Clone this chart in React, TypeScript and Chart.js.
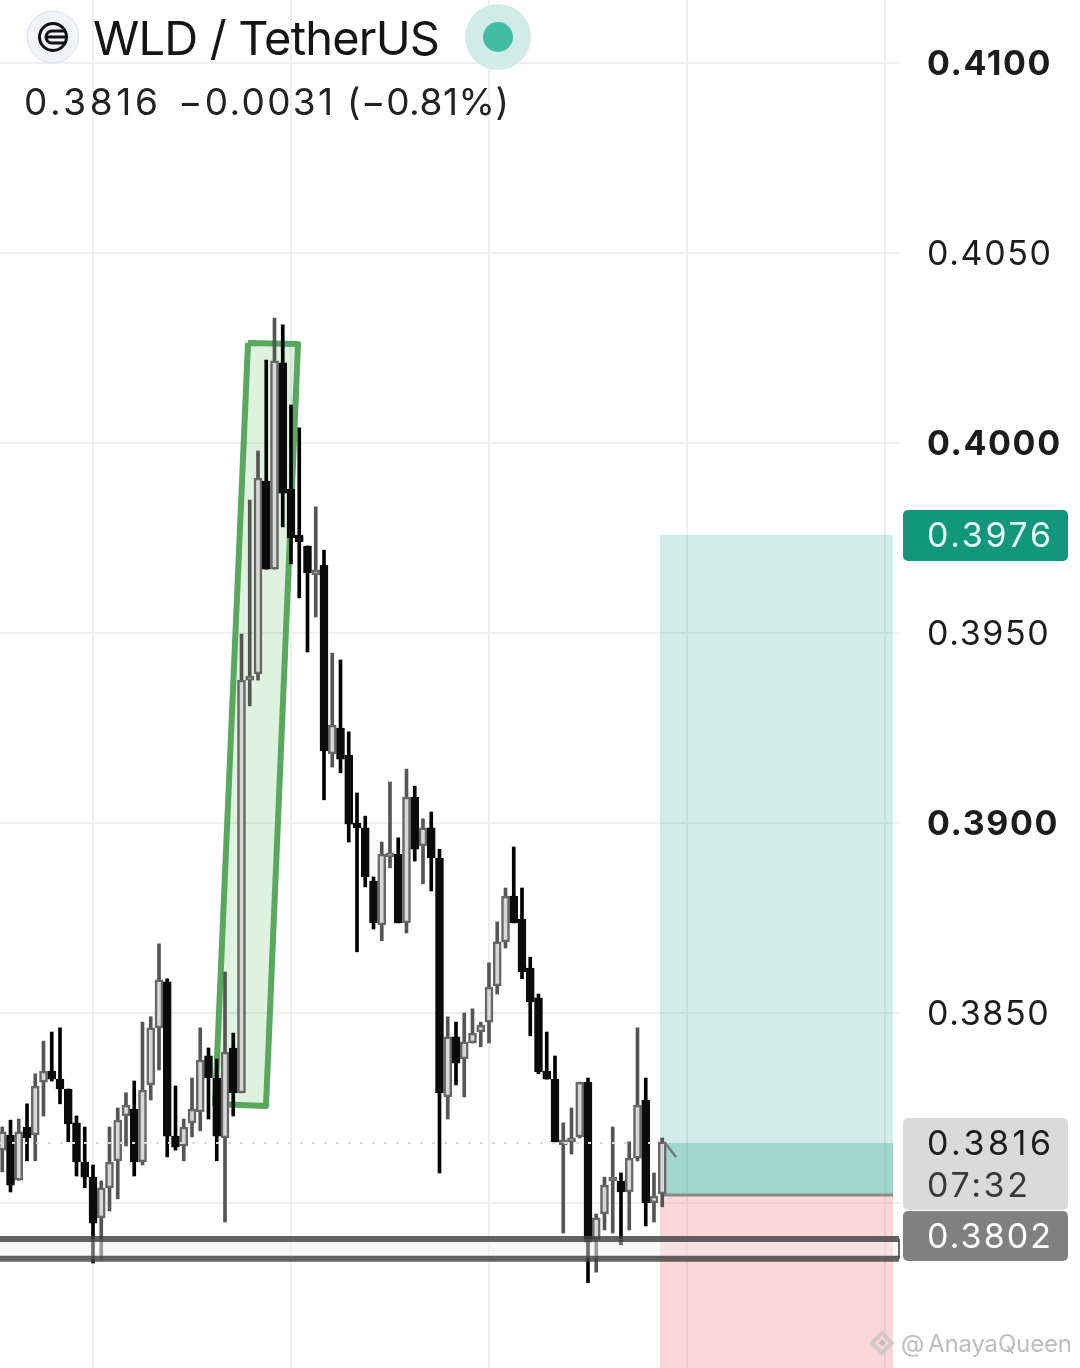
import React, { useEffect, useRef } from "react";
import { Chart, registerables } from "chart.js";

Chart.register(...registerables);

const opens = [
  0.38139, 0.38179, 0.3806, 0.382, 0.38179, 0.38318, 0.38347, 0.38326, 0.383, 0.38211,
  0.38108, 0.38068, 0.37961, 0.3804, 0.38111, 0.38229, 0.38247, 0.38108, 0.38311, 0.38461,
  0.38582, 0.38176, 0.3815, 0.38211, 0.3824, 0.38387, 0.38329, 0.38171, 0.38408, 0.3829,
  0.39376, 0.39392, 0.399, 0.39668, 0.40211, 0.39879, 0.39758, 0.39729, 0.39653, 0.39679,
  0.39182, 0.3925, 0.39179, 0.39, 0.38987, 0.38847, 0.38732, 0.38911, 0.38918, 0.38737,
  0.39068, 0.3894, 0.38987, 0.38908, 0.38279, 0.38437, 0.38379, 0.38421, 0.3845, 0.38476,
  0.38571, 0.38687, 0.38808, 0.38747, 0.38618, 0.3854, 0.38347, 0.38326, 0.38153, 0.38161,
  0.38174, 0.38318, 0.37903, 0.37971, 0.38058, 0.38058, 0.38029, 0.38118, 0.38271, 0.38, 0.38024,
];
const closes = [
  0.38187, 0.38047, 0.38187, 0.38171, 0.38308, 0.38347, 0.38326, 0.383, 0.38208, 0.38108,
  0.38068, 0.37947, 0.3804, 0.38108, 0.38218, 0.38258, 0.38108, 0.38297, 0.38461, 0.38587,
  0.38176, 0.38147, 0.382, 0.38247, 0.38376, 0.38329, 0.38176, 0.38397, 0.3829, 0.39376,
  0.39379, 0.39908, 0.39668, 0.40216, 0.39868, 0.3975, 0.3974, 0.39658, 0.39666, 0.3919,
  0.39258, 0.39168, 0.38997, 0.38987, 0.38858, 0.38737, 0.38918, 0.38918, 0.38737, 0.39068,
  0.38931, 0.38987, 0.38908, 0.3829, 0.38437, 0.38368, 0.38424, 0.38447, 0.38468, 0.38568,
  0.38687, 0.38808, 0.38737, 0.38608, 0.38529, 0.38345, 0.38326, 0.38161, 0.38166, 0.38168,
  0.38318, 0.37897, 0.37961, 0.38047, 0.38063, 0.38029, 0.38118, 0.38258, 0.38, 0.38018, 0.38161,
];
const highs = [
  0.382, 0.38218, 0.38221, 0.38261, 0.3834, 0.38426, 0.3845, 0.38461, 0.383, 0.38229,
  0.382, 0.381, 0.38058, 0.382, 0.3825, 0.3829, 0.38321, 0.38476, 0.3849, 0.38682,
  0.3859, 0.38308, 0.38221, 0.38329, 0.38461, 0.38408, 0.38379, 0.38608, 0.38447, 0.39497,
  0.3985, 0.39979, 0.40218, 0.40329, 0.40311, 0.401, 0.4004, 0.39729, 0.39832, 0.39718,
  0.39447, 0.39429, 0.3924, 0.39079, 0.39018, 0.38858, 0.3895, 0.39108, 0.38961, 0.39142,
  0.39097, 0.39011, 0.39029, 0.38931, 0.3849, 0.38476, 0.385, 0.38511, 0.38476, 0.38632,
  0.3874, 0.38829, 0.38937, 0.38829, 0.38647, 0.3855, 0.3845, 0.38387, 0.38211, 0.3825,
  0.38318, 0.38329, 0.37971, 0.38068, 0.382, 0.38079, 0.38161, 0.38461, 0.38329, 0.38079, 0.38171,
];
const lows = [
  0.38082, 0.38029, 0.3806, 0.38111, 0.38111, 0.38229, 0.38321, 0.38261, 0.38161, 0.38071,
  0.3804, 0.37842, 0.37853, 0.37979, 0.38011, 0.3815, 0.38071, 0.381, 0.38271, 0.3835,
  0.38121, 0.38139, 0.38111, 0.38174, 0.3819, 0.38221, 0.38111, 0.3795, 0.38229, 0.3829,
  0.39308, 0.39376, 0.39668, 0.39668, 0.39779, 0.39682, 0.39592, 0.3945, 0.39542, 0.39061,
  0.39147, 0.39132, 0.3895, 0.38661, 0.38832, 0.38721, 0.3869, 0.38882, 0.38737, 0.38711,
  0.389, 0.3884, 0.38821, 0.38079, 0.38221, 0.38311, 0.38279, 0.38421, 0.38411, 0.38421,
  0.3855, 0.38671, 0.38737, 0.3859, 0.3844, 0.3834, 0.38326, 0.38161, 0.37921, 0.38129,
  0.38171, 0.3779, 0.37818, 0.37929, 0.37921, 0.3789, 0.37929, 0.38111, 0.3794, 0.3795, 0.3799,
];

const yTickValues = [0.41, 0.405, 0.4, 0.395, 0.39, 0.385, 0.38];
const boldTicks = [0.41, 0.4, 0.39];
const hiddenTicks = [0.38];
const xGridValues = [11, 35, 59, 83, 107];

const priceMin = 0.375658;
const priceMax = 0.411658;
const indexMin = -0.2727;
const indexMax = 108.82;

const targetPrice = 0.39758;
const lastPrice = 0.38158;
const entryPrice = 0.38021;
const boxStart = 79.73;
const boxEnd = 107.97;
const zoneTop = 0.37905;
const zoneBottom = 0.37853;
const zoneEnd = 108.7;
const channelIndex = [29.79, 35.85, 31.97, 25.79];
const channelPrice = [0.402632, 0.402605, 0.382553, 0.382605];
const arrowIndex = [80.35, 81.67];
const arrowPrice = [0.38158, 0.38121];

const titleText = "WLD / TetherUS";
const quoteParts = ["0.3816", "\u22120.0031", "(\u22120.81%)"];
const FONT = "Inter, 'Noto Sans', sans-serif";

const box = (x0: number, x1: number, p0: number, p1: number) => [
  { x: x0, y: p0 }, { x: x1, y: p0 }, { x: x1, y: p1 }, { x: x0, y: p1 }, { x: x0, y: p0 },
];

// draws a string so that it fills the given width, as the tabular figures of the reference do
const fit = (c: any, text: string, x: number, y: number, width: number) => {
  c.letterSpacing = "0px";
  const w = c.measureText(text).width;
  c.letterSpacing = `${(width - w) / Math.max(1, text.length - 1)}px`;
  c.fillText(text, x, y);
  c.letterSpacing = "0px";
};

const overlay = {
  id: "overlay",
  beforeDraw(chart: any) {
    chart.ctx.letterSpacing = "1.6px";
  },
  afterDraw(chart: any) {
    const c = chart.ctx as any;
    c.save();
    c.textBaseline = "alphabetic";
    c.textAlign = "left";

    // header
    c.beginPath();
    c.arc(53, 37, 26, 0, Math.PI * 2);
    c.fillStyle = "#f1f3f8";
    c.fill();
    c.strokeStyle = "#dde1ea";
    c.lineWidth = 1;
    c.stroke();
    c.strokeStyle = "#111";
    c.lineWidth = 3;
    c.beginPath();
    c.arc(53, 37, 13.5, 0, Math.PI * 2);
    c.stroke();
    c.beginPath();
    c.moveTo(66, 31);
    c.lineTo(52, 31);
    c.arc(52, 37, 6, -Math.PI / 2, Math.PI / 2, true);
    c.lineTo(66, 43);
    c.stroke();
    c.beginPath();
    c.moveTo(46, 37);
    c.lineTo(66, 37);
    c.stroke();
    c.beginPath();
    c.arc(498, 37, 33, 0, Math.PI * 2);
    c.fillStyle = "#d1ebe6";
    c.fill();
    c.beginPath();
    c.arc(498, 37, 15, 0, Math.PI * 2);
    c.fillStyle = "#43bca6";
    c.fill();

    c.fillStyle = "#151515";
    c.font = `400 47px ${FONT}`;
    fit(c, titleText, 93, 55, 347);
    c.fillStyle = "#222";
    c.font = `400 37px ${FONT}`;
    fit(c, quoteParts[0], 24, 115, 134);
    fit(c, quoteParts[1], 178, 115, 155);
    fit(c, quoteParts[2], 347, 115, 162);

    // price tags
    const tag = (y0: number, y1: number, color: string) => {
      c.beginPath();
      c.roundRect(903, y0, 165, y1 - y0, 5);
      c.fillStyle = color;
      c.fill();
    };
    c.font = `400 34px ${FONT}`;
    tag(510, 561, "#12967c");
    c.fillStyle = "#e8fbf6";
    fit(c, targetPrice.toFixed(4), 927, 547, 124);
    tag(1118, 1210, "#dadada");
    c.fillStyle = "#1c1c1c";
    fit(c, lastPrice.toFixed(4), 927, 1155, 124);
    c.fillStyle = "#3a3a3a";
    fit(c, "07:32", 927, 1197, 101);
    tag(1211, 1261, "#808080");
    c.fillStyle = "#ffffff";
    fit(c, entryPrice.toFixed(4), 927, 1248, 124);

    // watermark
    c.save();
    c.translate(882, 1343);
    c.rotate(Math.PI / 4);
    c.strokeStyle = "rgba(205,200,200,0.95)";
    c.lineWidth = 4;
    c.strokeRect(-7, -7, 14, 14);
    c.fillStyle = "rgba(190,185,185,0.95)";
    c.fillRect(-2.5, -2.5, 5, 5);
    c.restore();
    c.fillStyle = "rgba(185,185,185,0.95)";
    c.font = `400 24px ${FONT}`;
    c.fillText("@", 901, 1352);
    fit(c, "AnayaQueen", 928, 1352, 144);
    c.restore();
  },
};

export default function App() {
  const ref = useRef<HTMLCanvasElement | null>(null);

  useEffect(() => {
    document.body.style.margin = "0";
    const candleX = opens.map((_, i) => i);
    const up = opens.map((o, i) => closes[i] >= o);
    const line = (data: any[], extra: any) => ({
      type: "line" as const,
      data,
      pointRadius: 0,
      pointHoverRadius: 0,
      tension: 0,
      borderWidth: 0,
      borderColor: "transparent",
      backgroundColor: "transparent",
      fill: false,
      ...extra,
    });

    const chart = new Chart(ref.current as HTMLCanvasElement, {
      type: "bar",
      data: {
        datasets: [
          line(box(boxStart, boxEnd, lastPrice, targetPrice), { fill: "shape", backgroundColor: "rgba(30,165,140,0.2)", order: 9 }),
          line(box(boxStart, boxEnd, entryPrice, lastPrice), { fill: "shape", backgroundColor: "rgba(30,160,140,0.42)", order: 9 }),
          line(box(boxStart, boxEnd, priceMin, entryPrice), { fill: "shape", backgroundColor: "rgba(242,54,69,0.2)", order: 9 }),
          line(box(boxStart + 0.4, boxEnd, entryPrice, entryPrice), { borderColor: "#8a8a8a", borderWidth: 3, order: 8 }),
          line(
            [0, 1, 2, 3, 0].map((k) => ({ x: channelIndex[k], y: channelPrice[k] })),
            { fill: "shape", backgroundColor: "rgba(76,175,80,0.18)", borderColor: "#58a85e", borderWidth: 6, borderJoinStyle: "round", order: 7 }
          ),
          {
            type: "bar" as const,
            data: candleX.map((x, i) => ({ x, y: [lows[i], highs[i]] })),
            barThickness: 3,
            grouped: false,
            backgroundColor: up.map((u) => (u ? "#555555" : "#000000")),
            order: 6,
          },
          {
            type: "bar" as const,
            data: candleX.map((x, i) => ({ x, y: [Math.min(opens[i], closes[i]), Math.max(opens[i], closes[i])] })),
            barThickness: 8,
            grouped: false,
            minBarLength: 4,
            backgroundColor: up.map((u) => (u ? "#d8d8d8" : "#0b0b0b")),
            borderColor: up.map((u) => (u ? "#666666" : "#0b0b0b")),
            borderWidth: 2.5,
            borderSkipped: false,
            order: 5,
          },
          line(box(indexMin, boxStart, lastPrice, lastPrice).slice(0, 2), { borderColor: "#d9d9d9", borderWidth: 2, borderDash: [3, 9], order: 4 }),
          line(
            arrowIndex.map((x, k) => ({ x, y: arrowPrice[k] })),
            { borderColor: "#777777", borderWidth: 2.5, order: 3 }
          ),
          line(box(indexMin, zoneEnd, zoneBottom, zoneTop), { fill: "shape", backgroundColor: "rgba(240,240,240,0.45)", order: 2 }),
          line(box(indexMin, zoneEnd, zoneTop, zoneTop).slice(0, 2), { borderColor: "rgba(65,65,65,0.82)", borderWidth: 6, order: 1 }),
          line(box(indexMin, zoneEnd, zoneBottom, zoneBottom).slice(0, 2), { borderColor: "rgba(65,65,65,0.82)", borderWidth: 6, order: 1 }),
          line([{ x: zoneEnd, y: zoneTop }, { x: zoneEnd, y: zoneBottom }], { borderColor: "rgba(70,70,70,0.8)", borderWidth: 2, order: 1 }),
        ] as any,
      },
      options: {
        responsive: false,
        animation: false,
        events: [],
        layout: { padding: 0 },
        plugins: { legend: { display: false }, tooltip: { enabled: false }, title: { display: false } },
        scales: {
          x: {
            type: "linear",
            min: indexMin,
            max: indexMax,
            offset: false,
            afterBuildTicks: (s: any) => {
              s.ticks = xGridValues.map((value) => ({ value }));
            },
            afterFit: (s: any) => {
              s.height = 0;
            },
            grid: { color: "#efefef", lineWidth: 2, drawTicks: false, offset: false },
            border: { display: false },
            ticks: { display: false },
          },
          y: {
            type: "linear",
            position: "right",
            min: priceMin,
            max: priceMax,
            afterBuildTicks: (s: any) => {
              s.ticks = yTickValues.map((value) => ({ value }));
            },
            afterFit: (s: any) => {
              s.width = 180;
              s.paddingTop = 0;
              s.paddingBottom = 0;
            },
            grid: { color: "#efefef", lineWidth: 2, drawTicks: false },
            border: { display: false },
            ticks: {
              autoSkip: false,
              padding: 27,
              color: "#1c1c1c",
              font: (ctx: any) => ({
                family: FONT,
                size: 34,
                lineHeight: "4px",
                weight: boldTicks.includes(ctx.tick?.value) ? "700" : "400",
              }),
              callback: (v: any) => (hiddenTicks.includes(v) ? "" : ["", Number(v).toFixed(4)]),
            },
          },
        },
      } as any,
      plugins: [overlay],
    });
    return () => chart.destroy();
  }, []);

  return (
    <div style={{ width: 1080, height: 1368, position: "relative", overflow: "hidden", background: "#fff" }}>
      <canvas ref={ref} width={1080} height={1368} style={{ display: "block" }} />
    </div>
  );
}
